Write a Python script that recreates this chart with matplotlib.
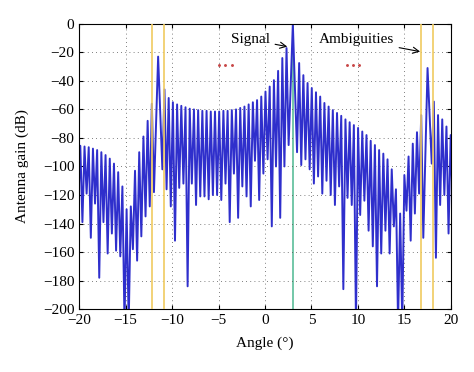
import matplotlib
matplotlib.use("Agg")
import matplotlib.pyplot as plt

# lobe grid: nulls sit at signal_deg + k * lobe_step
signal_deg = 3.0
signal_db = 0.0
lobe_step = 0.453
amb_deg = [-11.5, 17.5]
amb_db = [-23.0, -31.0]
window_deg = [-12.15, -10.85, 16.8, 18.1]   # yellow markers round the ambiguities

# left tail, k = -52 .. -33
left_k0 = -52
left_null_db = [-140, -130, -139, -119, -150, -126, -178, -139, -161, -147,
                -159, -163, -210, -210, -158, -166, -149, -135, -128, -118]
left_peak_db = [-85.5, -85.5, -86, -86.5, -87.5, -88.5, -90, -92, -94.5, -98,
                -104, -114, -130, -128, -103, -90, -79, -68, -56]

# between left ambiguity and signal, k = -31 .. -1
mid_k0 = -31
mid_null_db = [-102, -116, -128, -152, -115, -112, -184, -112, -127, -121,
               -121, -123, -120, -120, -123.5, -112, -139, -105, -136, -114,
               -121, -128, -96, -123.5, -105, -95, -142, -100, -136, -100, -85]
mid_peak_db = [-46, -52, -55, -56.5, -57.5, -58.5, -59.5, -60, -60.5, -61,
               -61, -61.5, -61.5, -61.5, -61, -61, -60.5, -60, -59, -58,
               -56.5, -55, -53.5, -51, -47.5, -44, -39.5, -33, -24, -17]

# between signal and right ambiguity, k = 1 .. 31
right_k0 = 1
right_null_db = [-90, -99, -95, -102, -112, -107, -119, -110, -120, -127,
                 -114, -186, -122, -127, -210, -134, -124, -145, -156, -184,
                 -161, -145, -161, -142, -210, -210, -131, -152, -133, -119, -150]
right_peak_db = [-27.5, -36, -41.5, -45, -48, -51, -55.5, -58, -60.5, -62.5,
                 -64.5, -67, -69, -71, -73, -75.5, -78, -82, -85, -88.5,
                 -91, -95, -102, -116, -133, -106, -93, -84, -76, -64]

# right tail, k = 33 .. 39
tail_k0 = 33
tail_null_db = [-98, -164, -127, -120, -147, -130, -140]
tail_peak_db = [-54.5, -64, -67, -72, -78, -82]

dots_left_deg = [-5.0, -4.3, -3.6]
dots_right_deg = [8.8, 9.45, 10.1]
dots_db = -29


def lobes(k0, nulls, peaks):
    x, y = [], []
    for i, n in enumerate(nulls):
        x.append(signal_deg + (k0 + i) * lobe_step)
        y.append(n)
        if i < len(peaks):
            x.append(signal_deg + (k0 + i + 0.5) * lobe_step)
            y.append(peaks[i])
    return x, y


def main():
    plt.rcParams["font.family"] = ["Liberation Serif", "DejaVu Serif"]
    plt.rcParams["font.size"] = 11

    xs, ys = [], []
    for k0, nl, pk in [(left_k0, left_null_db, left_peak_db),
                       (mid_k0, mid_null_db, mid_peak_db),
                       (right_k0, right_null_db, right_peak_db),
                       (tail_k0, tail_null_db, tail_peak_db)]:
        x, y = lobes(k0, nl, pk)
        xs += x
        ys += y
        # the wide lobe that follows each block
        if k0 == left_k0:
            xs.append(amb_deg[0]); ys.append(amb_db[0])
        elif k0 == mid_k0:
            xs.append(signal_deg); ys.append(signal_db)
        elif k0 == right_k0:
            xs.append(amb_deg[1]); ys.append(amb_db[1])

    fig = plt.figure(figsize=(4.74, 3.72), dpi=100)
    ax = fig.add_axes([0.167, 0.169, 0.784, 0.767])
    ax.plot(xs, ys, color="#2f2fcc", lw=1.4, zorder=2)
    for w in window_deg:
        ax.axvline(w, color="#f0cb60", lw=1.2, zorder=3)
    ax.axvline(signal_deg, color="#4db891", lw=1.1, zorder=1.5)

    ax.plot(dots_left_deg, [dots_db] * 3, ls="none", marker="o", ms=1.1, color="#c84848")
    ax.plot(dots_right_deg, [dots_db] * 3, ls="none", marker="o", ms=1.1, color="#c84848")

    ax.annotate("Signal", xy=(2.4, -16), xytext=(-1.6, -11), ha="center", va="center",
                arrowprops=dict(arrowstyle="->", color="k", lw=0.8, shrinkA=2, shrinkB=0))
    ax.annotate("Ambiguities", xy=(16.7, -19.5), xytext=(9.8, -11), ha="center", va="center",
                arrowprops=dict(arrowstyle="->", color="k", lw=0.8, shrinkA=2, shrinkB=0))

    ax.set_xlim(-20, 20)
    ax.set_ylim(-200, 0)
    ax.set_xticks(range(-20, 21, 5))
    ax.set_yticks(range(-200, 1, 20))
    ax.grid(True, color="#555555", ls=(0, (1, 4)), lw=0.6)
    ax.tick_params(direction="in", top=True, right=True, length=3, labelsize=11)
    for s in ax.spines.values():
        s.set_linewidth(0.8)
    ax.set_xlabel("Angle (°)", labelpad=7)
    ax.set_ylabel("Antenna gain (dB)", labelpad=10)

    fig.savefig("out.png", dpi=100)


if __name__ == "__main__":
    main()
